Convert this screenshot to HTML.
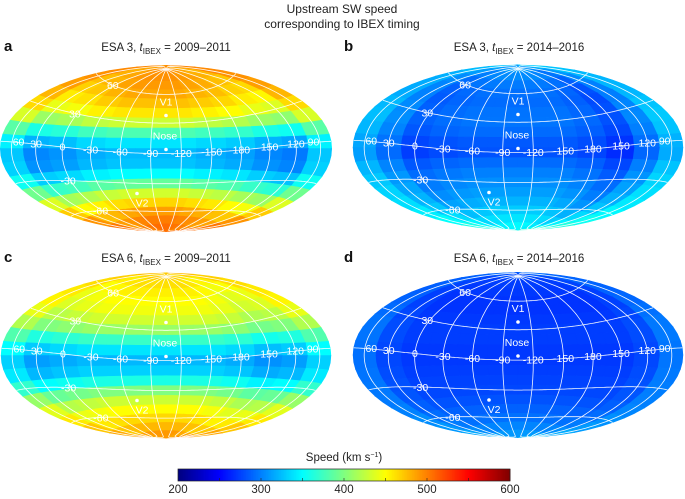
<!DOCTYPE html>
<html><head><meta charset="utf-8">
<style>
html,body{margin:0;padding:0;background:#fff;}
body{width:685px;height:494px;overflow:hidden;font-family:"Liberation Sans",sans-serif;}
svg text{font-family:"Liberation Sans",sans-serif;}
</style></head>
<body>
<svg id="fig" width="685" height="494" viewBox="0 0 685 494" xmlns="http://www.w3.org/2000/svg">
<text x="342" y="13" font-size="12" text-anchor="middle" fill="#222">Upstream SW speed</text>
<text x="342" y="28" font-size="12" text-anchor="middle" fill="#222">corresponding to IBEX timing</text>
<g id="panels"></g>
<g id="cbar"></g>
</svg>
<script>
// latitude bins (deg, bin centres from north to south), 10 deg each
const latBins = [85,75,65,55,45,35,25,15,5,-5,-15,-25,-35,-45,-55,-65,-75,-85];
// longitude bins (screen longitude, 30 deg each)
const lonBins = [-165,-135,-105,-75,-45,-15,15,45,75,105,135,165];
// panel a: ESA 3, 2009-2011
const latA = [492,490,486,480,470,455,425,375,335,318,322,345,385,428,462,485,498,505];
const lonA = [10,-15,-10,0,5,5,5,0,-5,-15,-20,10];
// panel b: ESA 3, 2014-2016
const latB = [312,305,298,294,292,295,296,292,285,282,292,300,306,312,320,330,340,348];
const lonB = [30,10,-8,-3,0,0,0,0,-5,-15,8,35];
// panel c: ESA 6, 2009-2011
const latC = [470,462,456,450,445,432,410,372,340,322,332,360,400,430,450,465,478,490];
const lonC = [10,-10,-5,0,0,0,0,0,-5,-15,-10,10];
// panel d: ESA 6, 2014-2016
const latD = [280,274,272,270,270,272,274,274,272,272,274,276,278,282,288,294,302,310];
const lonD = [22,6,0,0,0,0,0,0,0,0,6,24];
// colorbar ticks
const cbTicks = [200,300,400,500,600];
// grid labels
const eqLabels = [60,30,0,-30,-60,-90,-120,-150,180,150,120,90];
const latLabels = [60,30,-30,-60];

const NS="http://www.w3.org/2000/svg";
const vmin=200,vmax=600;
function jet(v){
  let t=(v-vmin)/(vmax-vmin); t=Math.max(0,Math.min(1,t));
  const f=x=>Math.max(0,Math.min(1,x));
  const r=f(1.5-Math.abs(4*t-3)), g=f(1.5-Math.abs(4*t-2)), b=f(1.5-Math.abs(4*t-1));
  return `rgb(${Math.round(r*255)},${Math.round(g*255)},${Math.round(b*255)})`;
}
function mk(tag,attrs,parent){const e=document.createElementNS(NS,tag);for(const k in attrs)e.setAttribute(k,attrs[k]);parent.appendChild(e);return e;}
const D=Math.PI/180;
function hammer(lat,lon,P){
  const phi=lat*D, lam=lon*D;
  const z=Math.sqrt(1+Math.cos(phi)*Math.cos(lam/2));
  return [P.cx+P.R*2*Math.SQRT2*Math.cos(phi)*Math.sin(lam/2)/z, P.cy-P.R*Math.SQRT2*Math.sin(phi)/z];
}
const delta=5*D;
function gridToScreen(lat,lon){
  const p=lat*D,l=lon*D;
  const X=Math.cos(p)*Math.cos(l),Y=Math.cos(p)*Math.sin(l),Z=Math.sin(p);
  const X2=X*Math.cos(delta)+Z*Math.sin(delta), Z2=-X*Math.sin(delta)+Z*Math.cos(delta);
  return [Math.asin(Math.max(-1,Math.min(1,Z2)))/D, Math.atan2(Y,X2)/D];
}
const panels=[
 {id:'a',title:'ESA 3',years:'2009–2011',lat:latA,lon:lonA,cx:166,cy:148.5,R:58.6,tx:166,ty:51,lx:4,ly:51},
 {id:'b',title:'ESA 3',years:'2014–2016',lat:latB,lon:lonB,cx:518,cy:147.5,R:58.3,tx:519,ty:51,lx:344,ly:51},
 {id:'c',title:'ESA 6',years:'2009–2011',lat:latC,lon:lonC,cx:166,cy:355.5,R:58.3,tx:166,ty:262,lx:4,ly:262},
 {id:'d',title:'ESA 6',years:'2014–2016',lat:latD,lon:lonD,cx:518,cy:355,R:58.3,tx:519,ty:262,lx:344,ly:262}
];
const root=document.getElementById('panels');
panels.forEach(P=>{
  const g=mk('g',{},root);
  
  
  const lt=mk('text',{x:P.lx,y:P.ly,'font-size':15,'font-weight':'bold',fill:'#111'},g);
  lt.textContent=P.id;
  
  
  const tt=mk('text',{x:P.tx,y:P.ty,'font-size':11.5,'text-anchor':'middle',fill:'#222'},g);
  
  
  tt.innerHTML=P.title+', <tspan font-style="italic">t</tspan><tspan font-size="8" dy="3">IBEX</tspan><tspan dy="-3"> = '+P.years+'</tspan>';
  const cells=mk('g',{},g);
  
  
  latBins.forEach((la,i)=>{
    lonBins.forEach((lo,j)=>{
      const w=Math.cos(la*D);
      const v=P.lat[i]+P.lon[j]*(0.5+0.5*w);
      const la0=la-5,la1=la+5,lo0=lo-15,lo1=lo+15;
      const pts=[];
      for(let k=0;k<=6;k++)pts.push(hammer(la1,lo0+(lo1-lo0)*k/6,P));
      for(let k=0;k<=2;k++)pts.push(hammer(la1-10*k/2,lo1,P));
      for(let k=6;k>=0;k--)pts.push(hammer(la0,lo0+(lo1-lo0)*k/6,P));
      for(let k=2;k>=0;k--)pts.push(hammer(la0+10*k/2,lo0,P));
      const c=jet(v);
      const poly=mk('polygon',{points:pts.map(p=>p[0].toFixed(1)+','+p[1].toFixed(1)).join(' '),fill:c,stroke:c,'stroke-width':0.6},cells);
      
      
    });
  });
  // graticule
  const grid=mk('g',{fill:'none',stroke:'#fff','stroke-width':0.8,opacity:0.95},g);
  
  
  function line(samples){
    let d='',prev=null;
    samples.forEach(([la,lo])=>{
      const [sl,sn]=gridToScreen(la,lo);
      const p=hammer(sl,sn,P);
      if(prev&&Math.abs(p[0]-prev[0])<40)d+=' L'+p[0].toFixed(1)+','+p[1].toFixed(1);
      else d+=' M'+p[0].toFixed(1)+','+p[1].toFixed(1);
      prev=p;
    });
    const pa=mk('path',{d:d},grid);
    
    
  }
  for(let m=-165;m<=165;m+=30){const s=[];for(let la=-90;la<=90;la+=2)s.push([la,m]);line(s);}
  [-60,-30,0,30,60].forEach(la=>{const s=[];for(let lo=-180;lo<=180;lo+=2)s.push([la,lo]);line(s);});
  const labs=mk('g',{fill:'#fff','font-size':10.5,'text-anchor':'middle'},g);
  
  
  eqLabels.forEach((L,k)=>{
    let m=-165+30*k;
    if(k==eqLabels.length-1)m=163; if(k==0)m=-163;
    const [sl,sn]=gridToScreen(0,m);
    const p=hammer(sl,sn,P);
    const t=mk('text',{x:p[0]+(k==0?5:k==11?-5:0),y:p[1]+3.5},labs);t.textContent=L;
    
    
  });
  latLabels.forEach(L=>{
    const [sl,sn]=gridToScreen(L,-108);
    const p=hammer(sl,sn,P);
    const t=mk('text',{x:p[0],y:p[1]+4},labs);t.textContent=L;
    
    
  });
  const marks=[['V1',0,-34,0,-9],['Nose',0,0,-1,-9],['V2',-29,44,5,14]];
  marks.forEach(([n,dx,dy,ox,oy])=>{
    const c=mk('circle',{cx:P.cx+dx,cy:P.cy+dy+1,r:1.8,fill:'#fff'},g);
    
    
    const t=mk('text',{x:P.cx+dx+ox,y:P.cy+dy+oy,'font-size':10.5,fill:'#fff','text-anchor':'middle'},g);
    t.textContent=n;
    
    
  });
});
// colorbar
const cb=document.getElementById('cbar');
const x0=178,x1=510,yb=469,hb=12;
const cx=v=>x0+(v-vmin)/(vmax-vmin)*(x1-x0);
for(let v=vmin;v<vmax;v+=2){
  const r=mk('rect',{x:cx(v),y:yb,width:(x1-x0)/200+0.4,height:hb,fill:jet(v+1)},cb);
  
  
}
mk('rect',{x:x0,y:yb,width:x1-x0,height:hb,fill:'none',stroke:'#222','stroke-width':0.7},cb);
for(let v=250;v<600;v+=50){mk('line',{x1:cx(v),x2:cx(v),y1:yb+hb-3,y2:yb+hb,stroke:'#222','stroke-width':0.6},cb);}
const ctl=mk('text',{x:344,y:461,'font-size':11.5,'text-anchor':'middle',fill:'#222'},cb);
ctl.innerHTML='Speed (km s<tspan font-size="7" dy="-4">−1</tspan><tspan dy="4">)</tspan>';


cbTicks.forEach(v=>{
  const t=mk('text',{x:cx(v),y:493,'font-size':11.5,'text-anchor':'middle',fill:'#222'},cb);
  t.textContent=v;
  
  
});
</script>
</body></html>
